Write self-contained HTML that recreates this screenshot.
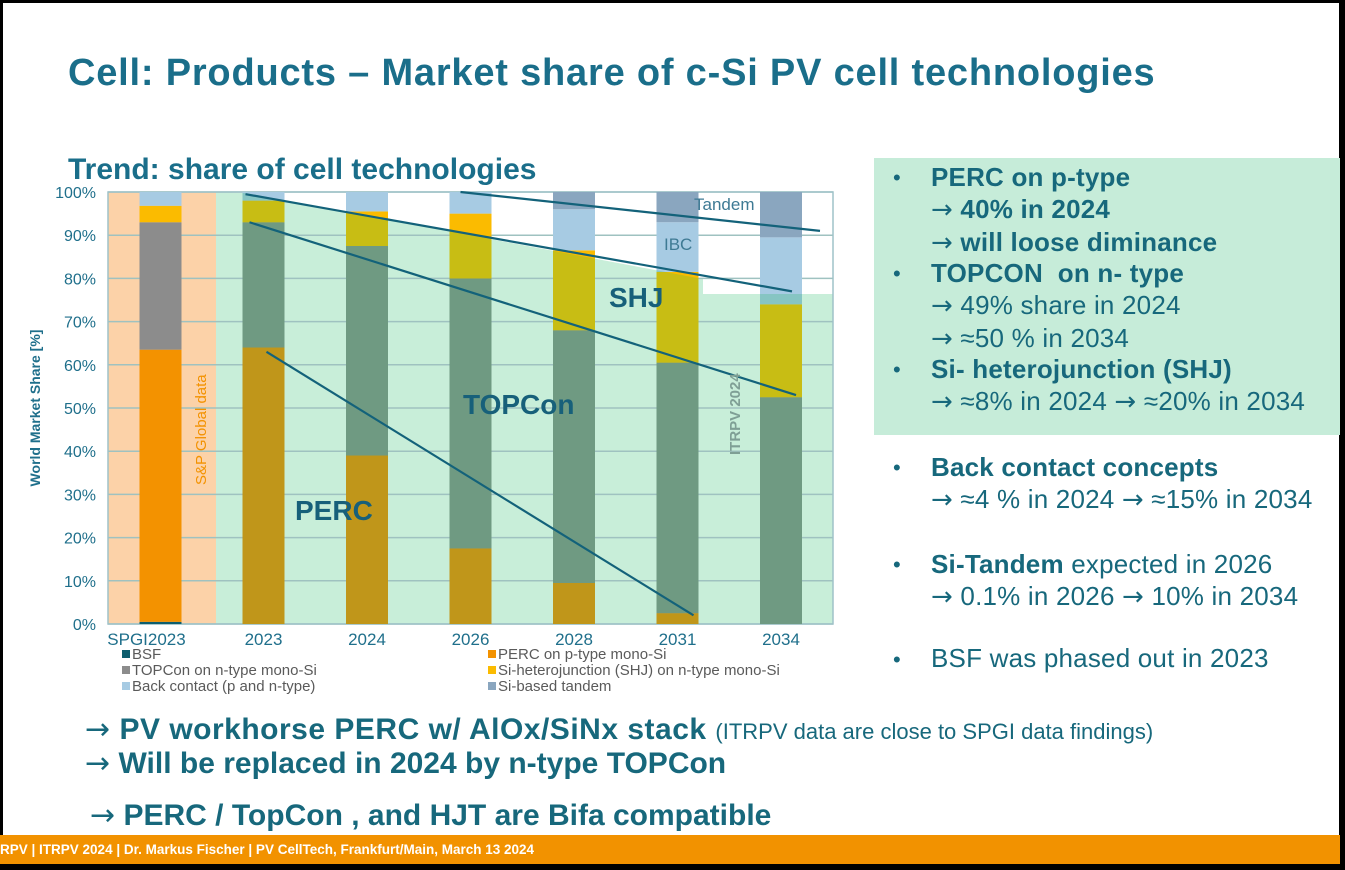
<!DOCTYPE html>
<html><head><meta charset="utf-8"><style>
body{margin:0;background:#000;}
#page{position:relative;width:1345px;height:870px;overflow:hidden;background:#000;font-family:"Liberation Sans",sans-serif;}
#slide{position:absolute;left:3px;top:3px;width:1336px;height:860px;background:#fff;}
.t{position:absolute;white-space:nowrap;color:#17687c;}
.a{font-family:"DejaVu Sans",sans-serif;font-weight:normal;}
</style></head><body>
<div id="page">
<div id="slide"></div>
<div class="t" style="left:68px;top:52px;font-size:38px;letter-spacing:0.8px;font-weight:bold;color:#1a6e8a;">Cell: Products – Market share of c-Si PV cell technologies</div>
<div class="t" style="left:68px;top:153px;font-size:30px;font-weight:bold;color:#1a6e8a;">Trend: share of cell technologies</div>

<svg id="chart" width="1345" height="870" style="position:absolute;left:0;top:0"></svg>

<div style="position:absolute;left:874px;top:158px;width:466px;height:277px;background:#c6ecd9;"></div>
<div style="position:absolute;left:0;top:0;">
<div class="t" style="left:893px;top:165px;font-size:22px;">•</div>
<div class="t" style="left:931px;top:161px;font-size:26px;letter-spacing:0.2px;font-weight:bold;line-height:32px;">PERC on p-type<br><span class="a">→</span> 40% in 2024<br><span class="a">→</span> will loose diminance</div>
<div class="t" style="left:893px;top:261px;font-size:22px;">•</div>
<div class="t" style="left:931px;top:257px;font-size:26px;letter-spacing:0.2px;line-height:32px;"><b>TOPCON&nbsp; on n- type</b><br><span class="a">→</span> 49% share in 2024<br><span class="a">→</span> ≈50 % in 2034</div>
<div class="t" style="left:893px;top:357px;font-size:22px;">•</div>
<div class="t" style="left:931px;top:353px;font-size:26px;letter-spacing:0.2px;line-height:32px;"><b>Si- heterojunction (SHJ)</b><br><span class="a">→</span> ≈8% in 2024 <span class="a">→</span> ≈20% in 2034</div>
<div class="t" style="left:893px;top:455px;font-size:22px;">•</div>
<div class="t" style="left:931px;top:451px;font-size:26px;letter-spacing:0.2px;line-height:32px;"><b>Back contact concepts</b><br><span class="a">→</span> ≈4 % in 2024 <span class="a">→</span> ≈15% in 2034</div>
<div class="t" style="left:893px;top:552px;font-size:22px;">•</div>
<div class="t" style="left:931px;top:548px;font-size:26px;letter-spacing:0.2px;line-height:32px;"><b>Si-Tandem</b> expected in 2026<br><span class="a">→</span> 0.1% in 2026 <span class="a">→</span> 10% in 2034</div>
<div class="t" style="left:893px;top:647px;font-size:22px;">•</div>
<div class="t" style="left:931px;top:643px;font-size:26px;letter-spacing:0.2px;">BSF was phased out in 2023</div>
</div>
<div class="t" style="left:85px;top:712px;font-size:30px;font-weight:bold;letter-spacing:0.5px;"><span class="a">→</span> PV workhorse PERC w/ AlOx/SiNx stack <span style="font-weight:normal;font-size:22px;letter-spacing:0;">(ITRPV data are close to SPGI data findings)</span></div>
<div class="t" style="left:85px;top:746px;font-size:30px;font-weight:bold;"><span class="a">→</span> Will be replaced in 2024 by n-type TOPCon</div>
<div class="t" style="left:90px;top:798px;font-size:30px;font-weight:bold;"><span class="a">→</span> PERC / TopCon , and HJT are Bifa compatible</div>
<div style="position:absolute;left:0;top:835px;width:1340px;height:29px;background:#f29200;"></div>
<div class="t" style="left:0;top:842px;font-size:13.5px;font-weight:bold;color:#fff;">RPV | ITRPV 2024 | Dr. Markus Fischer | PV CellTech, Frankfurt/Main, March 13 2024</div>
</div>
<script>
const categories=["SPGI2023","2023","2024","2026","2028","2031","2034"];
const seriesNames=["BSF","PERC on p-type mono-Si","TOPCon on n-type mono-Si","Si-heterojunction (SHJ) on n-type mono-Si","Back contact (p and n-type)","Si-based tandem"];
const bsf=[0.5,0,0,0,0,0,0];
const perc=[63,64,39,17.5,9.5,2.5,0];
const topcon=[29.5,29,48.5,62.5,58.5,58,52.5];
const shj=[3.8,5,8,15,18.5,21,21.5];
const backContact=[3.2,2,4.5,5,9.5,11.5,15.5];
const tandem=[0,0,0,0,4,7,10.5];
const yTicks=[0,10,20,30,40,50,60,70,80,90,100];
const trendPERC=[[1,63],[5,2]];
const trendTOPCon=[[1,93],[6,53]];
const trendSHJ=[[1,99.5],[6,77]];
const trendTandem=[[3,100],[6,91]];

const NS="http://www.w3.org/2000/svg";
const svg=document.getElementById('chart');
const X0=108,X1=833,Y0=624,Y1=192;
const y=v=>Y0-(Y0-Y1)*v/100;
const x=i=>i===0?160.5:263.5+(i-1)*103.5;
const BW=42;
function mk(t,a,p){const e=document.createElementNS(NS,t);for(const k in a)e.setAttribute(k,a[k]);(p||svg).appendChild(e);return e;}

const bgO=mk('rect',{x:X0,y:Y1,width:216-X0,height:Y0-Y1,fill:'#fcd2a8'});


const poly="216,192 246,193 703,279 703,294 833,294 833,624 216,624";
const bgG=mk('polygon',{points:poly,fill:'#c8eed9'});


yTicks.forEach(t=>{
  const g=mk('line',{x1:X0,x2:X1,y1:y(t),y2:y(t),stroke:'#9fc2c0','stroke-width':1.5});
  
  
  const l=mk('text',{x:96,y:y(t)+6,'text-anchor':'end','font-size':16,fill:'#1f6f8b','font-family':'Liberation Sans, sans-serif'});
  l.textContent=t+'%';
  
  
});
mk('rect',{x:X0,y:Y1,width:X1-X0,height:Y0-Y1,fill:'none',stroke:'#9fc2c8','stroke-width':1.5});
const defs=mk('defs',{});
const cp=mk('clipPath',{id:'ov'},defs);mk('polygon',{points:poly},cp);
const series=[bsf,perc,topcon,shj,backContact,tandem];
const raw=['#0e5e6e','#f39200','#8c8c8c','#fbbb00','#a7cbe3','#8aa6bf'];
const ovc=['#0e5e6e','#c0961a','#6f9a82','#c8bd14','#86c5c3','#8aa6bf'];
const gOv=mk('g',{'clip-path':'url(#ov)'});
categories.forEach((c,i)=>{
  let acc=0;
  series.forEach((s,k)=>{
    const v=s[i];if(v>0){
      const r=mk('rect',{x:x(i)-BW/2,y:y(acc+v),width:BW,height:y(acc)-y(acc+v),fill:raw[k]});
      
      
      if(i>0){mk('rect',{x:x(i)-BW/2,y:y(acc+v),width:BW,height:y(acc)-y(acc+v),fill:ovc[k]},gOv);}
    }
    acc+=v;
  });
  const t=mk('text',{x:x(i)+(i===0?-14:0),y:645,'text-anchor':'middle','font-size':17,fill:'#1f6f8b','font-family':'Liberation Sans, sans-serif'});
  t.textContent=c;
  
  
});
svg.appendChild(gOv);
const offs=[[3,16],[-14,15],[-18,11],[-10,39]];
[trendPERC,trendTOPCon,trendSHJ,trendTandem].forEach((tr,j)=>{
  const l=mk('line',{x1:x(tr[0][0])+offs[j][0],y1:y(tr[0][1]),x2:x(tr[1][0])+offs[j][1],y2:y(tr[1][1]),stroke:'#13627a','stroke-width':2.2});
  
  
});
function txt(s,a,name){const t=mk('text',Object.assign({'font-family':'Liberation Sans, sans-serif'},a));t.textContent=s;return t;}
txt('PERC',{x:295,y:520,'font-size':28,'font-weight':'bold',fill:'#17607a'},'perc-label');
txt('TOPCon',{x:463,y:414,'font-size':28,'font-weight':'bold',fill:'#17607a'},'topcon-label');
txt('SHJ',{x:609,y:307,'font-size':28,'font-weight':'bold',fill:'#17607a'},'shj-label');
txt('IBC',{x:664,y:250,'font-size':17,fill:'#3e7a94'},'ibc-label');
txt('Tandem',{x:694,y:210,'font-size':17,fill:'#3e7a94'},'tandem-label');
txt('S&P Global data',{x:0,y:0,'font-size':15,fill:'#f39200',transform:'translate(206,485) rotate(-90)'},'spgi-note');
txt('ITRPV 2024',{x:0,y:0,'font-size':15,'font-weight':'bold',fill:'#7f9f95',transform:'translate(740,455) rotate(-90)'},'itrpv-note');
txt('World Market Share [%]',{x:0,y:0,'font-size':14,'font-weight':'bold',fill:'#1f6f8b','text-anchor':'middle',transform:'translate(40,408) rotate(-90)'},'y-axis-title');
const legPos=[[122,659],[488,659],[122,675],[488,675],[122,691],[488,691]];
seriesNames.forEach((n,k)=>{
  const [lx,ly]=legPos[k];
  const s=mk('rect',{x:lx,y:ly-9,width:8,height:8,fill:raw[k]});
  
  
  txt(n,{x:lx+10,y:ly,'font-size':15,fill:'#5a5a5a'},'legend-entry');
});
</script>
</body></html>
